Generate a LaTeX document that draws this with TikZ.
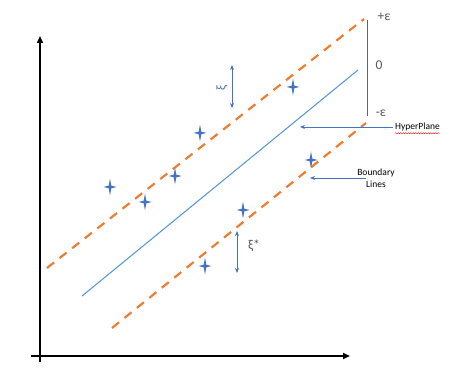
\documentclass[tikz,border=0pt]{standalone}
\usepackage{fontspec}
\setmainfont{Carlito}
\usetikzlibrary{arrows.meta,decorations.pathmorphing}
\definecolor{orng}{HTML}{ED7D31}
\definecolor{lblue}{HTML}{5B9BD5}
\definecolor{dblue}{HTML}{4472C4}
\definecolor{gtext}{HTML}{595959}
\tikzset{
  axis/.style={line width=1.8pt,black,-{Triangle[length=7pt,width=6pt]}},
  bound/.style={orng,line width=2.2pt,dash pattern=on 9pt off 7pt},
  hyper/.style={lblue,line width=1.1pt},
  ptr/.style={dblue,line width=0.7pt,-{Stealth[length=5pt,width=4pt]}},
  slack/.style={dblue,line width=0.8pt,{Stealth[length=5pt,width=4pt]}-{Stealth[length=5pt,width=4pt]}},
  lbl/.style={inner sep=0pt,text=black,font=\fontsize{9.5}{11.5}\selectfont,align=center},
  eps/.style={inner sep=0pt,text=gtext,font=\fontsize{13.5}{15}\selectfont},
  star/.pic={\fill[dblue] (0,8.5) -- (1.3,1.3) -- (6.5,0) -- (1.3,-1.3) -- (0,-8.5) -- (-1.3,-1.3) -- (-6.5,0) -- (-1.3,1.3) -- cycle;}
}
\begin{document}
\begin{tikzpicture}[x=1pt,y=-1pt]
\useasboundingbox (0,0) rectangle (465,371);
% axes
\coordinate (yb) at (40,362);
\coordinate (ytop) at (40,36);
\coordinate (xl) at (31,356);
\coordinate (xr) at (350,356);
\draw[axis] (yb) -- (ytop);
\draw[axis] (xl) -- (xr);
% boundary lines and hyperplane
\coordinate (u1) at (47,268); \coordinate (u2) at (364,19);
\coordinate (h1) at (82,296); \coordinate (h2) at (358,70);
\coordinate (l1) at (112,328); \coordinate (l2) at (366,123);
\draw[bound] (u1) -- (u2);
\draw[bound] (l1) -- (l2);
\draw[hyper] (h1) -- (h2);
% epsilon bar
\coordinate (e1) at (367,20); \coordinate (e2) at (367,116);
\draw[gray!80!black,line width=0.9pt] (e1) -- (e2);
\node[eps] (pe) at (384,17) {+ε};
\node[eps] (ze) at (379,65) {0};
\node[eps] (me) at (381,113) {-ε};
% labels with pointers
\node[lbl,anchor=west] (hp) at (395,127) {HyperPlane};
\draw[red,line width=0.4pt,decorate,decoration={snake,amplitude=0.6pt,segment length=2.5pt}] ([yshift=-2pt]hp.south west) -- ([yshift=-2pt]hp.south east);
\coordinate (hps) at (393,127);
\coordinate (hpa) at (300,127);
\draw[ptr] (hps) -- (hpa);
\node[lbl] (bl) at (376,178) {Boundary\\Lines};
\coordinate (bls) at (366,178);
\coordinate (bla) at (310,178);
\draw[ptr] (bls) -- (bla);
% slack arrows
\coordinate (x1) at (232,65); \coordinate (x2) at (232,108);
\draw[slack] (x1) -- (x2);
\node[eps,rotate=90,text=dblue!60!gray] (xi) at (222,88) {ξ};
\coordinate (y1) at (237,231); \coordinate (y2) at (237,273);
\draw[slack] (y1) -- (y2);
\node[eps,text=gtext] (xis) at (254,246) {ξ*};
% data points
\foreach \n/\px/\py in {s1/110/187,s2/145/202,s3/175/176,s4/200/133,s5/293/87,s6/311/160,s7/243/210,s8/205/266}{
  \pic at (\px,\py) {star};
}
\end{tikzpicture}
\end{document}
